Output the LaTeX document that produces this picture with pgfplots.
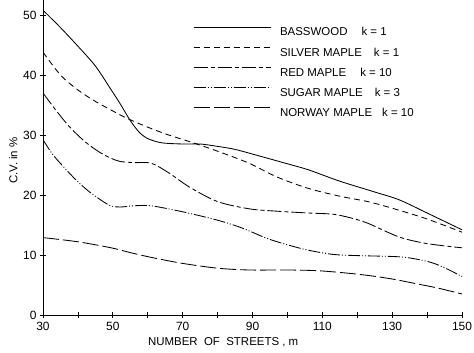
\documentclass[border=0pt]{standalone}
\usepackage{fontspec}
\setmainfont{Liberation Sans}
\usepackage{pgfplots}
\pgfplotsset{compat=1.18}
\begin{document}
\begin{tikzpicture}
\useasboundingbox (0,0) rectangle (474bp,353bp);
\begin{axis}[
  at={(43bp,38bp)}, anchor=south west,
  scale only axis, width=419bp, height=315bp,
  xmin=30, xmax=150, ymin=0, ymax=52.5,
  axis lines*=left,
  axis line style={line width=0.9pt},
  xtick={30,50,...,150}, minor xtick={40,60,...,140},
  ytick={0,10,...,50},
  tick align=center,
  major tick length=6bp, minor tick length=6bp,
  tick style={line width=0.8pt, black},
  /pgf/number format/assume math mode=true,
  ticklabel style={font=\fontsize{12}{13}\selectfont},
  xticklabel style={yshift=-1bp},
  xlabel={NUMBER\ \ OF\ \ STREETS\ ,\ m},
  ylabel={C.V.\ in\ \%},
  xlabel style={at={(axis description cs:0.43,0)}, anchor=north, yshift=-22bp, inner sep=0pt, font=\fontsize{11.5}{13}\selectfont},
  ylabel style={at={(axis description cs:-0.071,0.49)}, anchor=center, inner sep=0pt, font=\fontsize{11.5}{13}\selectfont},
  legend cell align=left,
  legend style={draw=none, fill=none, at={(rel axis cs:0.358,0.915)}, anchor=north west,
    inner sep=0pt, row sep=11.2bp, column sep=9bp,
    nodes={inner sep=0pt, text height=8.5bp, text depth=0bp, font=\fontsize{11.5}{13}\selectfont}},
  legend image code/.code={\draw[#1] (0bp,4.25bp) -- (77bp,4.25bp);},
  no markers,
  every axis plot/.append style={line width=0.85pt, black, smooth, tension=0.5},
]
\addplot[black, solid] coordinates {(30,50.8) (35,47.9) (40,44.8) (45,41.5) (49,38) (52,35.3) (55,32.4) (57.5,30.5) (60,29.4) (64,28.7) (70,28.5) (75,28.5) (80,28.1) (85,27.6) (92,26.5) (100,25.2) (106,24.2) (115,22.3) (125,20.5) (132,19.2) (140,17) (150,14.2)};
\addlegendentry{BASSWOOD\hspace{14bp}k = 1}
\addplot[black, dash pattern=on 6bp off 4bp] coordinates {(30,43.8) (35,40) (40,37.5) (45,35.6) (50,34) (54,32.8) (60,31.3) (66,30) (73,28.7) (80,27.3) (89,25.3) (97,23) (106,21.1) (115,19.8) (123,18.9) (130,17.8) (140,16) (150,13.8)};
\addlegendentry{SILVER MAPLE\hspace{12bp}k = 1}
\addplot[black, dash pattern=on 14bp off 3bp on 4bp off 3bp] coordinates {(30,37) (34,33.9) (37.7,31.3) (42,28.9) (46,27.2) (49.2,26.2) (52,25.6) (56,25.4) (61,25.3) (66,23.7) (72,21.3) (80,18.9) (89,17.7) (97,17.3) (106,17) (113,16.8) (118,16.2) (123,15.3) (132,13) (140,11.9) (150,11.2)};
\addlegendentry{RED MAPLE\hspace{14bp}k = 10}
\addplot[black, dash pattern=on 12bp off 2bp on 1bp off 2bp on 1bp off 2bp] coordinates {(30,29.2) (33,26.6) (37,24) (40,22.2) (44,20.2) (49,18.3) (52,18) (56,18.2) (61,18.2) (70,17.2) (80,15.8) (87,14.5) (94,12.8) (100,11.7) (106,10.8) (113,10.1) (120,9.9) (132,9.7) (138,9.2) (142,8.6) (146,7.6) (150,6.4)};
\addlegendentry{SUGAR MAPLE\hspace{12bp}k = 3}
\addplot[black, dash pattern=on 16bp off 4bp] coordinates {(30,12.9) (40,12.2) (49.5,11.2) (55,10.4) (61,9.6) (70,8.6) (80,7.8) (89,7.5) (100,7.5) (108,7.4) (115,7.1) (123,6.6) (130,6.0) (137,5.2) (143,4.5) (150,3.5)};
\addlegendentry{NORWAY MAPLE\hspace{10bp}k = 10}
\end{axis}
\end{tikzpicture}
\end{document}
